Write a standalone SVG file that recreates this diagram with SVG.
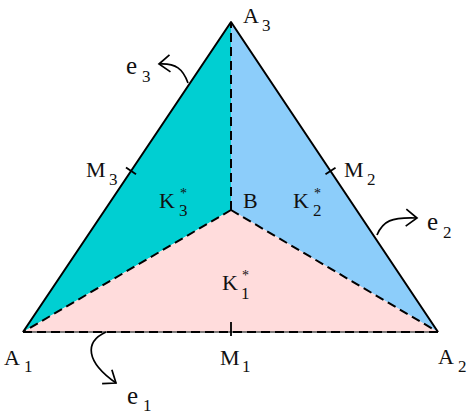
<svg xmlns="http://www.w3.org/2000/svg" width="474" height="416" viewBox="0 0 474 416">
  <style>
    text { font-family: "Liberation Serif", "Times New Roman", serif; fill: #111; }
    .m { font-size: 22px; }
    .e { font-size: 25px; }
    .s { font-size: 17px; }
    .st { font-size: 14px; }
    .edge { stroke: #000; stroke-width: 2; fill: none; stroke-linejoin: round; }
    .dash { stroke: #000; stroke-width: 2; fill: none; stroke-dasharray: 9 5; }
    .tick { stroke: #000; stroke-width: 1.8; }
    .arr { stroke: #000; stroke-width: 1.7; fill: none; marker-end: url(#open); }
  </style>
  <defs>
    <marker id="open" markerUnits="userSpaceOnUse" markerWidth="24" markerHeight="24" viewBox="-14 -12 16 24" refX="0" refY="0" orient="auto">
      <path d="M-11,-8.5 L0,0 L-11,8.5" fill="none" stroke="#000" stroke-width="1.7"/>
    </marker>
  </defs>

  <g id="regions">
    <polygon id="K3" points="23,332 231,22 231,210" fill="#00cfd2"/>
    <polygon id="K2" points="231,22 438,332 231,210" fill="#8ccdfa"/>
    <polygon id="K1" points="23,332 231,210 438,332" fill="#ffdcdc"/>
  </g>

  <g id="edges">
    <line x1="23" y1="332" x2="438" y2="332" stroke="#555" stroke-width="1.4"/>
    <line class="dash" x1="23" y1="332" x2="438" y2="332"/>
    <line class="dash" x1="231" y1="210" x2="231" y2="22"/>
    <line class="dash" x1="231" y1="210" x2="23" y2="332"/>
    <line class="dash" x1="231" y1="210" x2="438" y2="332"/>
    <polyline class="edge" points="23,332 231,22 438,332"/>
  </g>

  <g id="ticks">
    <line class="tick" x1="126" y1="167.6" x2="136" y2="174.3"/>
    <line class="tick" x1="325.5" y1="174.3" x2="335.5" y2="167.7"/>
    <line class="tick" x1="231" y1="322" x2="231" y2="336"/>
  </g>

  <g id="connectors">
    <path class="arr" d="M188,83 C183,69 176,63 159,64"/>
    <path class="arr" d="M377,235 C383,221 391,217 417,218"/>
    <path class="arr" d="M106,332 C84,342 86,362 116,383"/>
  </g>

  <g id="labels">
    <g id="A3"><text class="m" x="243" y="23">A</text><text class="s" x="262" y="31">3</text></g>
    <g id="A1"><text class="m" x="4" y="365">A</text><text class="s" x="24" y="372">1</text></g>
    <g id="A2"><text class="m" x="438" y="364">A</text><text class="s" x="458" y="372">2</text></g>
    <g id="M1"><text class="m" x="220" y="365">M</text><text class="s" x="242" y="372">1</text></g>
    <g id="M3"><text class="m" x="86" y="177">M</text><text class="s" x="109" y="185">3</text></g>
    <g id="M2"><text class="m" x="344" y="177">M</text><text class="s" x="367" y="185">2</text></g>
    <g id="K3s"><text class="m" x="159" y="208">K</text><text class="s" x="179" y="216">3</text><text class="st" x="180" y="198">*</text></g>
    <g id="B"><text class="m" x="243" y="208">B</text></g>
    <g id="K2s"><text class="m" x="293" y="208">K</text><text class="s" x="313" y="216">2</text><text class="st" x="314" y="198">*</text></g>
    <g id="K1s"><text class="m" x="222" y="290">K</text><text class="s" x="241" y="299">1</text><text class="st" x="242" y="280">*</text></g>
    <g id="e3"><text class="e" x="126" y="74">e</text><text class="s" x="142" y="82">3</text></g>
    <g id="e2"><text class="e" x="427" y="230">e</text><text class="s" x="443" y="238">2</text></g>
    <g id="e1"><text class="e" x="127" y="404">e</text><text class="s" x="143" y="411">1</text></g>
  </g>
</svg>
